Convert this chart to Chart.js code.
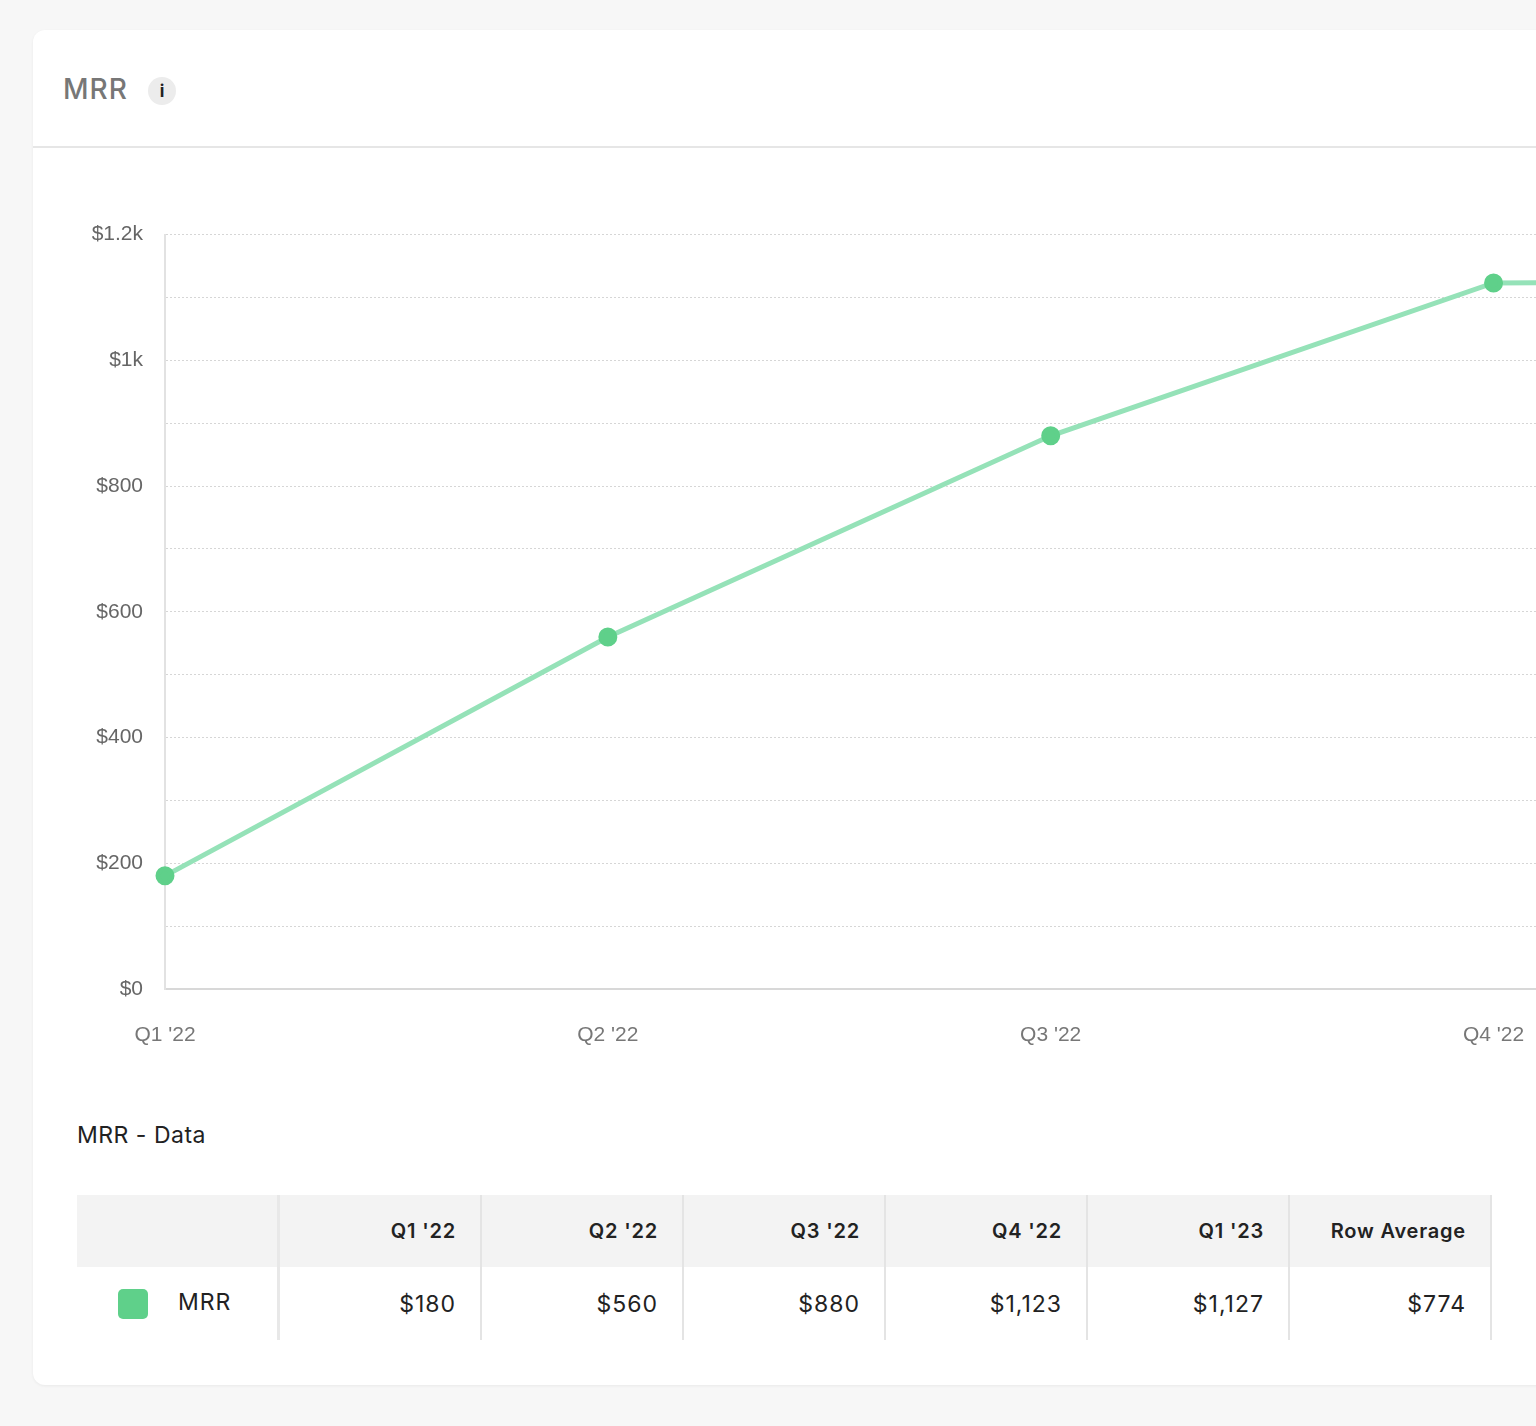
<!DOCTYPE html>
<html>
<head>
<meta charset="utf-8">
<script src="https://cdn.jsdelivr.net/npm/chart.js@4/dist/chart.umd.min.js"></script>
<style>
  html, body { margin: 0; padding: 0; background: #f7f7f7; overflow: hidden; width: 1536px; height: 1426px; font-family: Inter, "Noto Sans", sans-serif; }
  .card { position: absolute; left: 33px; top: 30px; width: 2000px; height: 1355px; background: #fff; border-radius: 12px; box-shadow: 0 1px 3px rgba(0,0,0,0.06); }
  .head { height: 116px; border-bottom: 2px solid #e6e6e6; position: relative; }
  .head .title { position: absolute; left: 30px; top: 42px; font-size: 28px; font-weight: 500; color: #777; letter-spacing: 1px; }
  .head .info { position: absolute; left: 115px; top: 47px; width: 28px; height: 28px; border-radius: 50%; background: #ececec; color: #222; font-size: 17px; font-weight: 700; text-align: center; line-height: 28px; }
  .chartbox { position: absolute; left: 0; top: 170px; width: 1960px; height: 870px; }
  .dtitle { position: absolute; left: 44px; top: 1091px; font-size: 23px; color: #222; letter-spacing: 0.5px; }
  table { position: absolute; left: 44px; top: 1165px; border-collapse: collapse; font-size: 23px; color: #222; letter-spacing: 1px; }
  th, td { width: 176px; padding: 0 24px 0 0; text-align: right; border-right: 2px solid #e4e4e4; }
  th { height: 72px; background: #f3f3f3; font-size: 20px; font-weight: 600; letter-spacing: 0.8px; }
  td { height: 73px; }
  th:first-child, td:first-child { width: 200px; padding: 0; text-align: left; border-right: 3px solid #e8e8e8; }
  .sw { display: inline-block; width: 30px; height: 30px; border-radius: 5px; background: #5fd08a; vertical-align: middle; margin: 0 30px 0 41px; }
</style>
</head>
<body>
<div class="card">
  <div class="head"><span class="title">MRR</span><span class="info">i</span></div>
  <div class="chartbox"><canvas id="c"></canvas></div>
  <div class="dtitle">MRR - Data</div>
  <table id="t"></table>
</div>
<script>
const quarters = ["Q1 '22", "Q2 '22", "Q3 '22", "Q4 '22", "Q1 '23"];
const mrr = [180, 560, 880, 1123, 1127];
const seriesName = 'MRR';

function money(v) {
  if (v >= 1000) return '$' + (v / 1000) + 'k';
  return '$' + v;
}

new Chart(document.getElementById('c'), {
  type: 'line',
  data: {
    labels: quarters,
    datasets: [{
      label: seriesName,
      data: mrr,
      borderColor: '#95e2b8',
      borderWidth: 5,
      pointBackgroundColor: '#5fd08a',
      pointBorderColor: '#5fd08a',
      pointRadius: 7,
      tension: 0
    }]
  },
  options: {
    responsive: true,
    maintainAspectRatio: false,
    animation: false,
    layout: { padding: { top: 21, right: 38 } },
    plugins: { legend: { display: false }, tooltip: { enabled: false } },
    scales: {
      x: {
        grid: { display: false },
        border: { color: '#d8d8d8', width: 2 },
        ticks: { color: '#777', font: { size: 21 }, padding: 26, maxRotation: 0 },
        afterFit: s => { s.height = 81; }
      },
      y: {
        min: 0, max: 1200,
        ticks: { stepSize: 100, color: '#666', font: { size: 21 }, padding: 22,
          callback: v => v % 200 === 0 ? money(v) : '' },
        grid: { color: '#d6d6d6', lineWidth: 1, drawTicks: false },
        border: { color: '#e2e2e2', width: 2, dash: [2, 2] },
        afterFit: s => { s.width = 132; }
      }
    }
  }
});

const avg = Math.round(mrr.reduce((a, b) => a + b, 0) / mrr.length);
const fmt = v => '$' + v.toLocaleString('en-US');
let html = '<tr><th></th>' + quarters.map(q => '<th>' + q + '</th>').join('') + '<th>Row Average</th></tr>';
html += '<tr><td><span class="sw"></span>' + seriesName + '</td>' + mrr.map(v => '<td>' + fmt(v) + '</td>').join('') + '<td>' + fmt(avg) + '</td></tr>';
document.getElementById('t').innerHTML = html;
</script>
</body>
</html>
